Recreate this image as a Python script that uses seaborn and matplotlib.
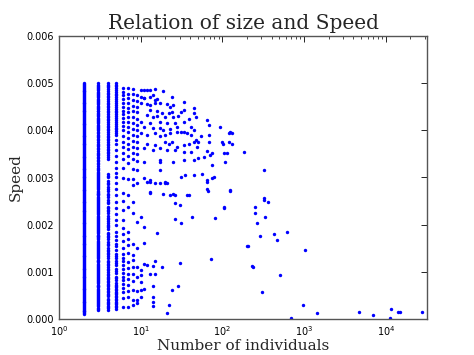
import pandas as pd
import matplotlib
matplotlib.use("Agg")
import matplotlib.pyplot as plt
import seaborn as sns

# speeds are in units of 1e-5
speed_2 = [10, 12, 14, 16, 18, 20, 22, 24, 26, 28, 29, 31, 33, 35, 37, 39, 41, 43, 45, 47,
           49, 51, 53, 55, 57, 59, 61, 63, 64, 66, 68, 70, 72, 74, 76, 78, 80, 82, 84, 86,
           88, 90, 92, 94, 96, 98, 99, 101, 103, 105, 107, 109, 111, 113, 115, 117, 119, 121, 123, 125,
           127, 129, 131, 133, 134, 136, 138, 140, 142, 144, 146, 148, 150, 152, 154, 156, 158, 160, 162, 164,
           166, 168, 169, 171, 173, 175, 177, 179, 181, 183, 185, 187, 189, 191, 193, 195, 197, 199, 201, 203,
           204, 206, 208, 210, 212, 214, 216, 218, 220, 222, 224, 226, 228, 230, 232, 234, 236, 238, 239, 241,
           243, 245, 247, 249, 251, 253, 255, 257, 259, 261, 263, 265, 267, 269, 271, 273, 274, 276, 278, 280,
           282, 284, 286, 288, 290, 292, 294, 296, 298, 300, 302, 304, 306, 308, 309, 311, 313, 315, 317, 319,
           321, 323, 325, 327, 329, 331, 333, 335, 337, 339, 341, 343, 344, 346, 348, 350, 352, 354, 356, 358,
           360, 362, 364, 366, 368, 370, 372, 374, 376, 378, 379, 381, 383, 385, 387, 389, 391, 393, 395, 397,
           399, 401, 403, 405, 407, 409, 411, 413, 414, 416, 418, 420, 422, 424, 426, 428, 430, 432, 434, 436,
           438, 440, 442, 444, 446, 448, 449, 451, 453, 455, 457, 459, 461, 463, 465, 467, 469, 471, 473, 475,
           477, 479, 481, 483, 484, 486, 488, 490, 492, 494, 496, 498, 500]
speed_3 = [20, 22, 24, 27, 29, 31, 33, 36, 38, 40, 42, 45, 47, 49, 51, 53, 55, 58, 60, 62,
           64, 67, 69, 71, 73, 76, 78, 80, 82, 84, 86, 89, 91, 93, 95, 98, 100, 102, 104, 107,
           109, 111, 113, 115, 117, 120, 122, 124, 126, 129, 131, 133, 135, 138, 140, 142, 144, 146, 148, 151,
           153, 155, 157, 160, 162, 164, 166, 169, 171, 173, 175, 177, 179, 182, 184, 186, 188, 191, 193, 195,
           197, 200, 202, 204, 206, 208, 210, 213, 215, 217, 219, 222, 224, 226, 228, 231, 233, 235, 237, 239,
           241, 244, 246, 248, 250, 253, 255, 257, 259, 262, 264, 266, 268, 270, 272, 275, 277, 279, 281, 284,
           286, 288, 290, 293, 295, 297, 299, 301, 303, 306, 308, 310, 312, 315, 318, 321, 325, 328, 331, 334,
           338, 341, 344, 347, 350, 353, 357, 360, 363, 366, 369, 372, 376, 379, 382, 385, 388, 391, 394, 397,
           400, 402, 405, 407, 410, 412, 415, 417, 420, 422, 425, 427, 430, 432, 435, 437, 440, 442, 445, 447,
           450, 452, 455, 457, 460, 462, 465, 467, 470, 472, 475, 477, 480, 482, 485, 487, 490, 492, 495, 497, 500]
speed_4 = [20, 23, 25, 28, 31, 34, 37, 40, 43, 48, 51, 54, 57, 60, 63, 66, 69, 72, 75, 78,
           81, 84, 87, 90, 93, 96, 100, 103, 106, 110, 114, 117, 120, 124, 130, 134, 137, 140, 144, 147,
           150, 156, 160, 163, 170, 173, 176, 180, 183, 190, 194, 197, 200, 204, 208, 211, 214, 218, 224, 228,
           231, 235, 238, 245, 249, 252, 258, 262, 265, 272, 276, 279, 286, 289, 293, 300, 304, 307,
           340, 344, 347, 351, 354, 358, 361, 365, 368, 372, 375, 379, 382, 386, 389, 393, 396, 400,
           403, 407, 410, 414, 417, 421, 424, 428, 431, 435, 438, 442, 445, 449, 452, 456, 459, 463,
           466, 470, 473, 477, 480, 484, 487, 491, 494, 497, 500]
speed_5 = [22, 25, 28, 31, 34, 37, 40, 43, 46, 49, 52, 55, 58, 61, 64, 67, 70, 73, 76, 82,
           86, 90, 98, 102, 106, 114, 118, 122, 130, 134, 138, 146, 154, 160, 168, 176, 184,
           200, 210, 222, 235, 248, 262, 275, 288, 300, 310, 320, 332, 345, 358, 370, 380,
           390, 394, 398, 402, 406, 410, 414, 418, 422, 426, 430, 434, 438, 442, 446, 450,
           454, 458, 462, 466, 470, 474, 478, 482, 486, 490, 494, 497, 500]
speed_6 = [25, 45, 58, 66, 74, 82, 90, 98, 106, 114, 122, 130, 138, 150, 165, 180, 193, 210, 231, 250,
           268, 299, 320, 340, 352, 364, 376, 388, 400, 410, 418, 426, 434, 442, 450, 458, 466, 474, 482, 490]
speed_7 = [25, 47, 60, 72, 84, 96, 108, 120, 140, 157, 170, 185, 237, 262, 297, 330, 345, 360, 372, 384,
           396, 408, 418, 428, 438, 448, 458, 468, 478, 490]
speed_8 = [30, 40, 62, 80, 95, 110, 125, 136, 158, 225, 248, 285, 296, 318, 340, 352, 365, 378, 390, 402,
           415, 428, 440, 452, 465, 478, 488]
speed_9 = [34, 40, 60, 90, 110, 150, 205, 288, 315, 335, 350, 362, 375, 388, 400, 412, 425, 438, 450, 462, 475]

# larger groups: sizes and speeds side by side
other_sizes = [10, 11, 16, 11, 11, 12, 15, 14, 18, 13, 15, 10, 10, 10, 11, 14, 14, 14, 14, 10,
               10, 21, 22, 24, 29, 30, 26, 31, 42, 82, 73, 104, 200, 235, 305, 291, 265, 337, 248, 253,
               327, 358, 12, 13, 13, 15, 17, 20, 23, 25, 26, 30, 39, 64, 64, 66, 123,
               15, 19, 12, 13, 11, 10, 10, 11, 13, 14, 16, 24, 34, 10, 12, 13, 15, 17, 21, 23,
               25, 31, 34, 45, 45, 11, 13, 15, 16, 18, 22, 24, 12, 14, 16, 20, 25, 29, 39, 47,
               10, 13, 17, 21, 26, 34, 65, 68, 94, 119, 11, 14, 17, 19, 23, 28, 41, 45,
               10, 12, 15, 17, 20, 23, 28, 31, 34, 37, 41, 47, 68, 68, 54,
               12, 15, 20, 22, 24, 28, 34, 39, 45, 49, 51, 99, 119,
               11, 14, 17, 21, 26, 34, 41, 65, 75, 104,
               17, 17, 25, 34, 45, 51, 59, 71, 75, 11, 17,
               11, 13, 20, 21, 31, 35, 45, 56, 65, 75, 78, 13, 19, 26, 37, 125,
               125, 131, 183, 322, 101, 131, 107, 114, 104, 322,
               424, 465, 613, 204, 1014, 231, 512, 980, 1450, 690,
               4700, 7060, 11500, 11200, 14000, 15100, 27400]
other_speeds = [216, 196, 182, 162, 117, 114, 124, 112, 110, 95, 96, 104, 93, 79, 64, 70, 47, 37, 28, 47,
                61, 13, 30, 61, 70, 118, 211, 203, 217, 215, 128, 236, 155, 111, 57, 176, 203, 216, 225, 238,
                252, 249, 291, 291, 268, 288, 289, 289, 263, 266, 245, 242, 263, 291, 275, 272, 272,
                487, 484, 485, 485, 485, 485, 471, 468, 471, 475, 466, 470, 461, 457, 456, 454, 457, 457, 456, 450,
                454, 439, 443, 447, 436, 468, 443, 464, 441, 436, 436, 439, 432, 429, 430, 428, 429, 430, 425, 429,
                418, 416, 418, 415, 416, 418, 422, 411, 408, 395, 408, 404, 406, 401, 402, 408, 408, 401,
                394, 390, 394, 387, 390, 394, 397, 397, 397, 394, 390, 379, 390, 376, 387,
                372, 369, 376, 372, 376, 365, 369, 372, 376, 365, 376, 376, 376,
                362, 358, 362, 358, 358, 355, 355, 357, 351, 351,
                337, 333, 333, 337, 337, 341, 344, 348, 327, 333, 316,
                298, 295, 291, 288, 302, 305, 305, 307, 295, 298, 302, 270, 266, 263, 263, 273,
                397, 394, 355, 316, 370, 370, 333, 353, 237, 256,
                181, 167, 185, 155, 146, 112, 93, 30, 12, 2,
                14, 8, 21, 2, 15, 15, 14]

sizes, speeds = [], []
for n, col in zip(range(2, 10), [speed_2, speed_3, speed_4, speed_5, speed_6, speed_7, speed_8, speed_9]):
    sizes += [n] * len(col)
    speeds += col
sizes += other_sizes
speeds += other_speeds

df = pd.DataFrame({"size": sizes, "speed": [s * 1e-5 for s in speeds]})

sns.set_style("white")
fig = plt.figure(figsize=(4.74, 3.55), dpi=100)
ax = fig.add_axes([0.1245, 0.1014, 0.7764, 0.7972])
sns.scatterplot(data=df, x="size", y="speed", ax=ax, color="#0000ff", s=6,
                linewidth=0, marker="o", legend=False)
ax.set_xscale("log")
ax.set_xlim(1, 32000)
ax.set_ylim(0, 0.006)
ax.set_yticks([0, 0.001, 0.002, 0.003, 0.004, 0.005, 0.006])
ax.yaxis.set_major_formatter(matplotlib.ticker.FormatStrFormatter("%.3f"))
ax.tick_params(which="both", direction="in", top=True, right=True, labelsize=7, colors="black")
ax.tick_params(which="major", length=4, width=0.6)
ax.tick_params(which="minor", length=2, width=0.5)
for sp in ax.spines.values():
    sp.set_color("#555555")
    sp.set_linewidth(1.0)

ax.set_title("Relation of size and Speed", family="DejaVu Serif", fontsize=14.5, pad=5)
ax.set_xlabel("Number of individuals", family="DejaVu Serif", fontsize=11, labelpad=1)
ax.set_ylabel("Speed", family="DejaVu Serif", fontsize=11, labelpad=3)

fig.savefig("out.png", dpi=100)
